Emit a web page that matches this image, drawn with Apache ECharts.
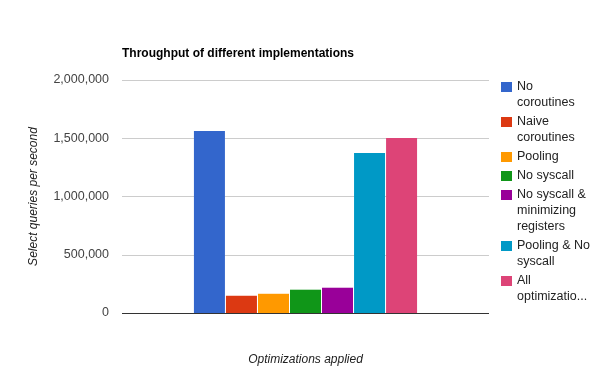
<!DOCTYPE html>
<html>
<head>
<meta charset="utf-8">
<script src="https://cdn.jsdelivr.net/npm/echarts@6/dist/echarts.min.js"></script>
<style>
  html, body { margin: 0; padding: 0; background: #fff; }
  #chart { width: 594px; height: 377px; }
</style>
</head>
<body>
<div id="chart"></div>
<script>
// 数据
var categories = [''];
var seriesNames = ['No coroutines', 'Naive coroutines', 'Pooling', 'No syscall',
    'No syscall & minimizing registers', 'Pooling & No syscall', 'All optimizations'];
var legendLabels = ['No\ncoroutines', 'Naive\ncoroutines', 'Pooling', 'No syscall',
    'No syscall &\nminimizing\nregisters', 'Pooling & No\nsyscall', 'All\noptimizatio...'];
var seriesValues = [1562000, 148000, 165000, 200000, 217000, 1374000, 1502000];
var yTicks = [0, 500000, 1000000, 1500000, 2000000];
var colors = ['#3366cc', '#dc3912', '#ff9900', '#109618', '#990099', '#0099c6', '#dd4477'];

var font = 'Arial, "Liberation Sans", sans-serif';
var lineH = 16;
var iconW = 11, iconH = 10;

var myChart = echarts.init(document.getElementById('chart'));

// 图例：每项单独一个，前面补空行，让色块对齐第一行文字
var legends = [];
var iconTop = 82;
legendLabels.forEach(function (label, i) {
    var n = label.split('\n').length;
    var text = new Array(n).join('\n') + label;
    legends.push({
        left: 501,
        top: iconTop - (16 * n - 8 - iconH / 2),
        orient: 'vertical',
        padding: 0,
        itemWidth: iconW,
        itemHeight: iconH,
        itemGap: 0,
        selectedMode: false,
        icon: 'rect',
        data: [seriesNames[i]],
        formatter: function () { return text; },
        textStyle: {
            color: '#222',
            fontSize: 12.5,
            fontFamily: font,
            lineHeight: lineH
        }
    });
    iconTop += lineH * n + 3;
});

var option = {
    animation: false,
    color: colors,
    title: {
        text: 'Throughput of different implementations',
        left: 122,
        top: 48,
        padding: 0,
        textStyle: {
            color: '#000',
            fontSize: 12,
            fontWeight: 'bold',
            fontFamily: font
        }
    },
    legend: legends,
    grid: {
        left: 122,
        right: 105,
        top: 80,
        bottom: 64,
        containLabel: false
    },
    xAxis: {
        type: 'category',
        data: categories,
        name: 'Optimizations applied',
        nameLocation: 'middle',
        nameGap: 41,
        nameTextStyle: {
            color: '#222',
            fontSize: 12,
            fontStyle: 'italic',
            fontFamily: font
        },
        axisLine: { show: false },
        axisTick: { show: false },
        axisLabel: { show: false }
    },
    yAxis: {
        type: 'value',
        min: yTicks[0],
        max: yTicks[yTicks.length - 1],
        interval: yTicks[1] - yTicks[0],
        name: 'Select queries per second',
        nameLocation: 'middle',
        nameGap: 82,
        nameTextStyle: {
            color: '#222',
            fontSize: 12,
            fontStyle: 'italic',
            fontFamily: font
        },
        axisLine: { show: false },
        axisTick: { show: false },
        axisLabel: {
            color: '#444',
            fontSize: 12.5,
            fontFamily: font,
            margin: 13,
            formatter: function (v) { return v.toLocaleString('en-US'); }
        },
        splitLine: {
            lineStyle: { color: '#cccccc', width: 1 }
        }
    },
    series: seriesNames.map(function (name, i) {
        return {
            name: name,
            type: 'bar',
            barWidth: 31,
            barGap: '3.3%',
            data: [seriesValues[i]],
            itemStyle: { color: colors[i] },
            markLine: i === 0 ? {
                silent: true,
                symbol: 'none',
                label: { show: false },
                lineStyle: { color: '#333', width: 1, type: 'solid' },
                data: [{ yAxis: 0 }]
            } : undefined
        };
    })
};

myChart.setOption(option);
window.addEventListener('resize', function () { myChart.resize(); });
</script>
</body>
</html>
